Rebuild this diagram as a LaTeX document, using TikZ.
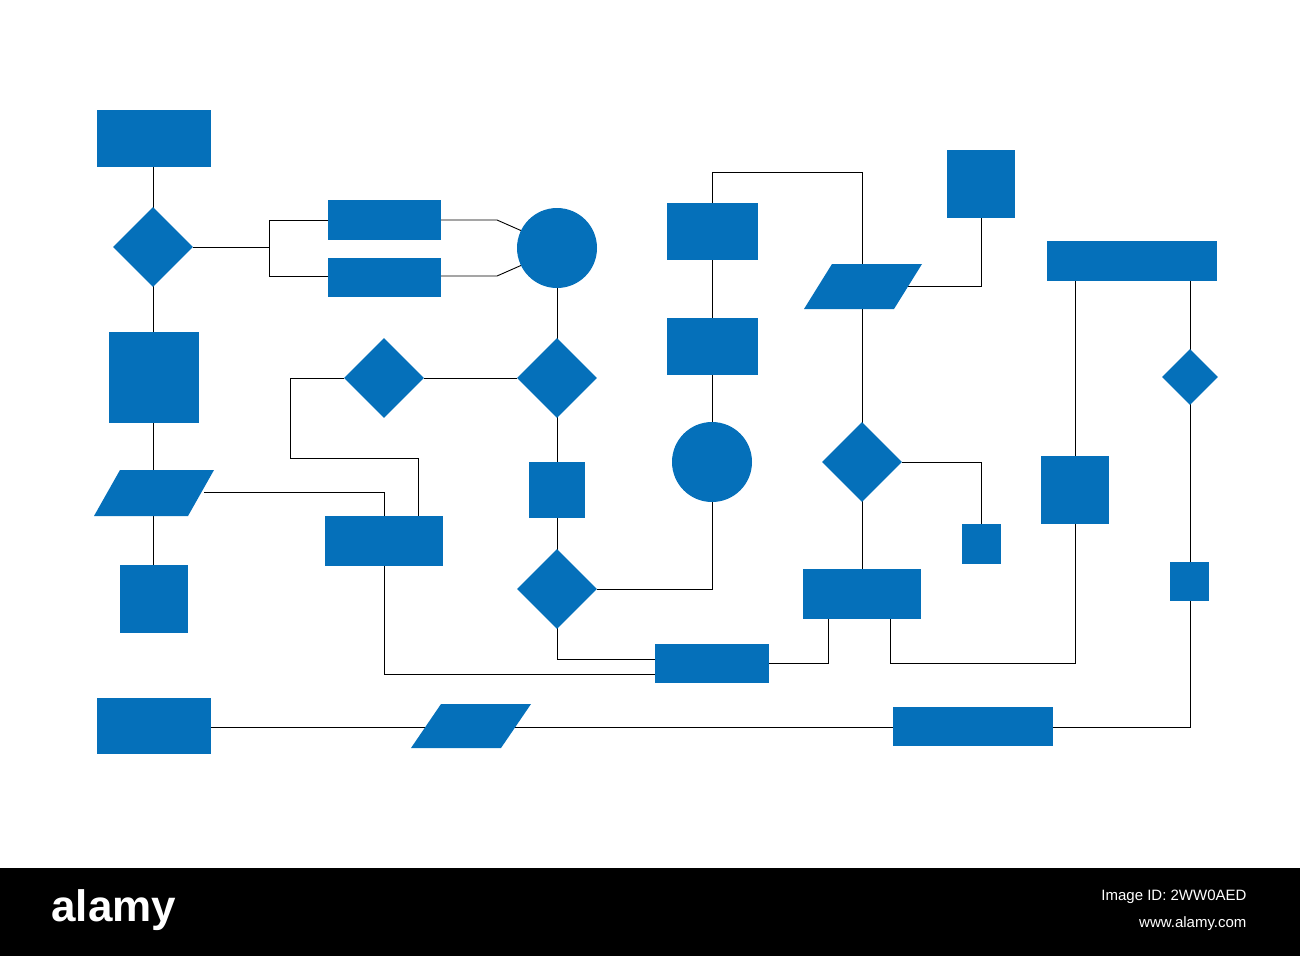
\documentclass[tikz,border=0pt]{standalone}
\usepackage{fontspec}
\setmainfont{Liberation Sans}
\usetikzlibrary{shapes.geometric}
\definecolor{fb}{HTML}{0570BA}
\tikzset{
 bx/.style={fill=fb,draw=none,rectangle,inner sep=0,minimum width=#1},
 dm/.style={fill=fb,draw=none,diamond,inner sep=0,minimum width=#1,minimum height=#1},
 cc/.style={fill=fb,draw=none,circle,inner sep=0,minimum size=80pt},
 pgf/.style={fill=fb,draw=none},
 ln/.style={draw=black,line width=0.9pt}
}
\begin{document}
\begin{tikzpicture}[x=1pt,y=-1pt]
\useasboundingbox (0,0) rectangle (1300,956);
\fill[white] (0,0) rectangle (1300,956);
% connectors first
\coordinate (a1) at (269,220); \coordinate (a2) at (269,276);
\draw[ln] (153,167)--(153,600);
\draw[ln] (193,247)--(269,247) (a1)--(a2) (a1)--(328,220) (a2)--(328,276);
\draw[ln] (441,220)--(497,220)--(522,231) (441,276)--(497,276)--(522,265);
\draw[ln] (204,492)--(384,492)--(384,516);
\draw[ln] (344,378)--(290,378)--(290,458)--(418,458)--(418,516);
\draw[ln] (424,378)--(517,378);
\draw[ln] (557,288)--(557,659)--(655,659);
\draw[ln] (597,589)--(712,589)--(712,502);
\draw[ln] (384,566)--(384,674)--(655,674);
\draw[ln] (769,663)--(828,663)--(828,619);
\draw[ln] (890,619)--(890,663)--(1075,663)--(1075,281);
\draw[ln] (712,422)--(712,172)--(862,172)--(862,569);
\draw[ln] (900,286)--(981,286)--(981,218);
\draw[ln] (902,462)--(981,462)--(981,524);
\draw[ln] (1190,281)--(1190,727)--(1053,727);
\draw[ln] (211,727)--(893,727);
% shapes
\node[bx=114pt,minimum height=57pt] (r1) at (154,138.5) {};
\node[dm=80pt] (d1) at (153,247) {};
\node[bx=113pt,minimum height=40pt] (r2) at (384.5,220) {};
\node[bx=113pt,minimum height=39pt] (r3) at (384.5,277.5) {};
\node[cc] (c1) at (557,248) {};
\node[bx=90pt,minimum height=91pt] (r4) at (154,377.5) {};
\fill[pgf] (120,470)--(214,470)--(188,516)--(94,516)--cycle;
\node[bx=68pt,minimum height=68pt] (r5) at (154,599) {};
\node[dm=80pt] (d2) at (384,378) {};
\node[dm=80pt] (d3) at (557,378) {};
\node[bx=56pt,minimum height=56pt] (r6) at (557,490) {};
\node[bx=118pt,minimum height=50pt] (r7) at (384,541) {};
\node[dm=80pt] (d4) at (557,589) {};
\node[bx=91pt,minimum height=57pt] (r8) at (712.5,231.5) {};
\node[bx=91pt,minimum height=57pt] (r9) at (712.5,346.5) {};
\node[cc] (c2) at (712,462) {};
\node[bx=114pt,minimum height=39pt] (r10) at (712,663.5) {};
\node[bx=118pt,minimum height=50pt] (r11) at (862,594) {};
\node[dm=80pt] (d5) at (862,462) {};
\node[bx=39pt,minimum height=40pt] (r12) at (981.5,544) {};
\fill[pgf] (832,264)--(922,264)--(894,309)--(804,309)--cycle;
\node[bx=68pt,minimum height=68pt] (r13) at (981,184) {};
\node[bx=170pt,minimum height=40pt] (r14) at (1132,261) {};
\node[dm=56pt] (d6) at (1190,377) {};
\node[bx=68pt,minimum height=68pt] (r15) at (1075,490) {};
\node[bx=39pt,minimum height=39pt] (r16) at (1189.5,581.5) {};
\node[bx=114pt,minimum height=56pt] (r17) at (154,726) {};
\fill[pgf] (441,704)--(531,704)--(501,748)--(411,748)--cycle;
\node[bx=160pt,minimum height=39pt] (r18) at (973,726.5) {};
% watermark bar
\fill[black] (0,868) rectangle (1300,956);
\node[white,font=\bfseries\fontsize{44}{44}\selectfont,anchor=west] (wm) at (48,910) {alamy};
\node[white,font=\fontsize{15}{15}\selectfont,anchor=east] (wm1) at (1250,897) {Image ID: 2WW0AED};
\node[white,font=\fontsize{15}{15}\selectfont,anchor=east] (wm2) at (1250,924) {www.alamy.com};
\end{tikzpicture}
\end{document}
